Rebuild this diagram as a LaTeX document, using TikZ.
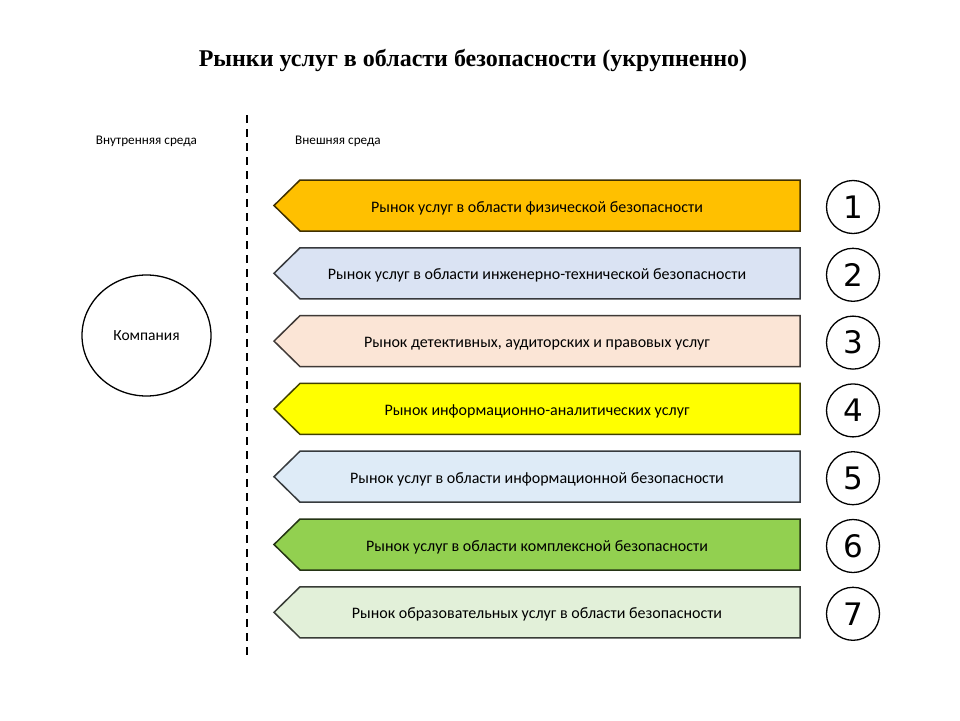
\documentclass[tikz,border=0pt]{standalone}
\usepackage{fontspec}
\usetikzlibrary{shapes.geometric}
\setmainfont{Carlito}
\newfontfamily\titlefont{Liberation Serif}
\newfontfamily\numfont{DejaVu Sans}
\begin{document}
\begin{tikzpicture}[x=1pt,y=-1pt,
  arrowbox/.style={line width=1.5pt},
  lbl/.style={font=\fontsize{16}{18}\selectfont, text=black},
  numc/.style={draw, line width=1.3pt, circle, minimum size=53pt, inner sep=0pt, font=\numfont\fontsize{31}{34}\selectfont},
  small/.style={font=\fontsize{13.2}{15}\selectfont}]
\useasboundingbox (0,0) rectangle (960,720);
\fill[white] (0,0) rectangle (960,720);
\node[font=\titlefont\bfseries\fontsize{24}{28}\selectfont] (title) at (473,60) {Рынки услуг в области безопасности (укрупненно)};
\node[small] (inner) at (146.5,141) {Внутренняя среда};
\node[small] (outer) at (338,141) {Внешняя среда};
\coordinate (dtop) at (247,115);
\coordinate (dbot) at (247,657);
\draw[line width=2.5pt, dash pattern=on 8pt off 6pt] (dtop) -- (dbot);
\node[draw, line width=1.3pt, ellipse, minimum width=129pt, minimum height=121pt, inner sep=0pt, font=\fontsize{15.5}{18}\selectfont] (comp) at (146.5,335.5) {Компания};
\foreach \i/\fc/\txt in {
  1/{255,192,0}/{Рынок услуг в области физической безопасности},
  2/{218,227,243}/{Рынок услуг в области инженерно-технической безопасности},
  3/{251,229,214}/{Рынок детективных, аудиторских и правовых услуг},
  4/{255,255,0}/{Рынок информационно-аналитических услуг},
  5/{222,235,247}/{Рынок услуг в области информационной безопасности},
  6/{146,208,80}/{Рынок услуг в области комплексной безопасности},
  7/{226,240,217}/{Рынок образовательных услуг в области безопасности}}{
  \pgfmathsetmacro{\yc}{205.5+67.8*(\i-1)}
  \definecolor{fc\i}{RGB}{\fc}
  \draw[arrowbox, fill=fc\i, draw=fc\i!25!black] (274,\yc) -- (300,\yc-25.5) -- (800,\yc-25.5) -- (800,\yc+25.5) -- (300,\yc+25.5) -- cycle;
  \node[lbl] (m\i) at (537,\yc+2.5) {\txt};
  \node[numc] (n\i) at (853,\yc+1.5) {\i};
}
\end{tikzpicture}
\end{document}
